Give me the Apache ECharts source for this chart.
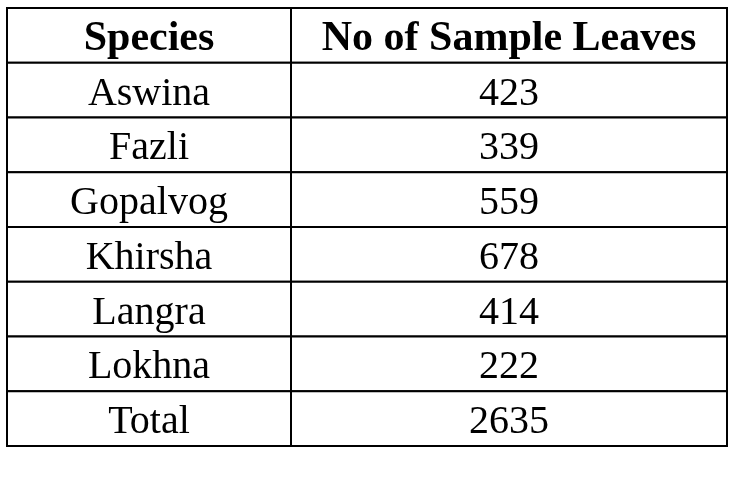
<!DOCTYPE html>
<html>
<head>
<meta charset="utf-8">
<script src="https://cdn.jsdelivr.net/npm/echarts@6/dist/echarts.min.js"></script>
<style>html,body{margin:0;background:#fff}#main{width:755px;height:482px}</style>
</head>
<body>
<div id="main"></div>
<script>
var headers = ['Species', 'No of Sample Leaves'];
var species = ['Aswina', 'Fazli', 'Gopalvog', 'Khirsha', 'Langra', 'Lokhna', 'Total'];
var leaves = ['423', '339', '559', '678', '414', '222', '2635'];
var colEdges = [0, 284, 720];

var rows = [''].concat(species.map(function (s, i) { return 'r' + i; }));
var cells = [];
headers.forEach(function (h, c) { cells.push([c, 0, h, 1]); });
species.forEach(function (s, i) {
  cells.push([0, i + 1, s, 0]);
  cells.push([1, i + 1, leaves[i], 0]);
});

var chart = echarts.init(document.getElementById('main'));
chart.setOption({
  animation: false,
  grid: { left: 7, right: 28, top: 8, bottom: 36 },
  xAxis: { type: 'value', min: 0, max: 720, show: false },
  yAxis: { type: 'category', data: rows, inverse: true, show: false },
  series: [{
    type: 'custom',
    data: cells,
    renderItem: function (params, api) {
      var c = api.value(0), r = api.value(1);
      var x0 = api.coord([colEdges[c], r])[0];
      var x1 = api.coord([colEdges[c + 1], r])[0];
      var cy = api.coord([0, r])[1];
      var h = api.size([0, 1])[1];
      var bold = api.value(3) === 1;
      return {
        type: 'group',
        children: [{
          type: 'rect',
          shape: { x: x0, y: cy - h / 2, width: x1 - x0, height: h },
          style: { fill: '#fff', stroke: '#000', lineWidth: 2 }
        }, {
          type: 'text',
          style: {
            x: (x0 + x1) / 2, y: cy + 4,
            text: cells[params.dataIndex][2],
            fill: '#000',
            font: bold ? 'bold 42px "Liberation Serif"' : '40px "Liberation Serif"',
            align: 'center', verticalAlign: 'middle'
          }
        }]
      };
    }
  }]
});
</script>
</body>
</html>
